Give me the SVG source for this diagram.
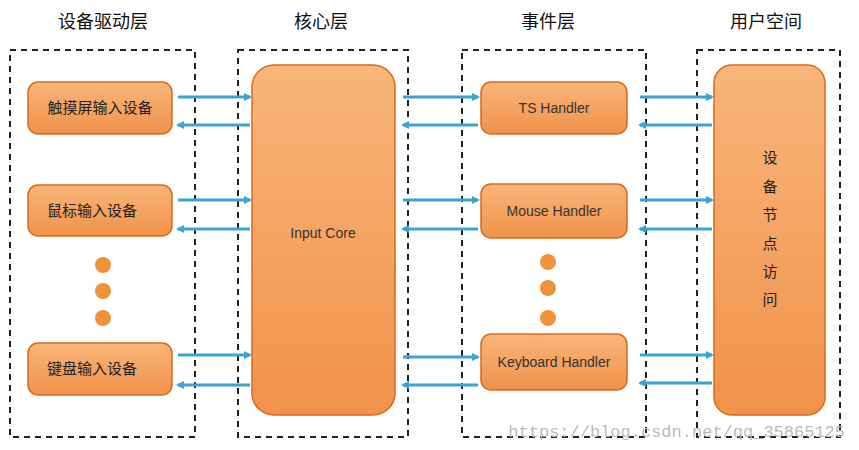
<svg xmlns="http://www.w3.org/2000/svg" width="859" height="450" viewBox="0 0 859 450">
<style>
.frame{fill:none;stroke:#222;stroke-width:2;stroke-dasharray:6 5}
.node{fill:url(#og);stroke:#d96a1a;stroke-width:1.5}
.h{font-family:"Noto Sans CJK SC","Liberation Sans",sans-serif;font-size:18px;fill:#111;text-anchor:middle}
.t{font-family:"Noto Sans CJK SC","Liberation Sans",sans-serif;font-size:15px;fill:#222;text-anchor:middle}
.e{font-family:"Liberation Sans",sans-serif;font-size:14px;fill:#333;text-anchor:middle}
.a{stroke:#3aa3d6;stroke-width:3;fill:none;marker-end:url(#ah)}
.dot{fill:#f0913c}
</style>
<defs>
<linearGradient id="og" x1="0" y1="0" x2="0" y2="1"><stop offset="0" stop-color="#f9b57a"/><stop offset="1" stop-color="#f0924a"/></linearGradient>
<marker id="ah" markerWidth="8" markerHeight="8" refX="6" refY="4" orient="auto" markerUnits="userSpaceOnUse"><path d="M0,0 L8,4 L0,8 Z" fill="#3aa3d6"/></marker>
</defs>
<rect x="0" y="0" width="859" height="450" fill="#fff"/>
<g id="frames">
<rect class="frame" x="10" y="50" width="185" height="387"/>
<rect class="frame" x="238" y="50" width="170" height="387"/>
<rect class="frame" x="462" y="50" width="184" height="387"/>
<rect class="frame" x="697" y="50" width="143" height="387"/>
</g>
<g id="headers">
<text class="h" x="103" y="28">设备驱动层</text>
<text class="h" x="321" y="28">核心层</text>
<text class="h" x="548" y="28">事件层</text>
<text class="h" x="766" y="28">用户空间</text>
</g>
<g id="touch"><rect class="node" x="28" y="82" width="144" height="52" rx="10"/><text class="t" x="100" y="113">触摸屏输入设备</text></g>
<g id="mouse"><rect class="node" x="28" y="185" width="144" height="51" rx="10"/><text class="t" x="92" y="216">鼠标输入设备</text></g>
<g id="kbd"><rect class="node" x="28" y="343" width="144" height="52" rx="10"/><text class="t" x="92" y="374">键盘输入设备</text></g>
<g id="dots1"><circle class="dot" cx="103" cy="265" r="8"/><circle class="dot" cx="103" cy="291" r="8"/><circle class="dot" cx="103" cy="318" r="8"/></g>
<g id="core"><rect class="node" x="252" y="65" width="143" height="350" rx="22"/><text class="e" x="323" y="238">Input Core</text></g>
<g id="ts"><rect class="node" x="481" y="82" width="146" height="52" rx="10"/><text class="e" x="554" y="113">TS Handler</text></g>
<g id="mh"><rect class="node" x="481" y="184" width="146" height="54" rx="10"/><text class="e" x="554" y="216">Mouse Handler</text></g>
<g id="kh"><rect class="node" x="481" y="334" width="146" height="56" rx="10"/><text class="e" x="554" y="367">Keyboard Handler</text></g>
<g id="dots2"><circle class="dot" cx="548" cy="262" r="8"/><circle class="dot" cx="548" cy="288" r="8"/><circle class="dot" cx="548" cy="318" r="8"/></g>
<g id="user"><rect class="node" x="714" y="65" width="111" height="350" rx="18"/>
<text class="t" x="770" y="163">设</text><text class="t" x="770" y="192">备</text><text class="t" x="770" y="220">节</text><text class="t" x="770" y="249">点</text><text class="t" x="770" y="277">访</text><text class="t" x="770" y="305">问</text></g>
<g id="connectors">
<line class="a" x1="178" y1="97" x2="250" y2="97"/><line class="a" x1="250" y1="125" x2="178" y2="125"/>
<line class="a" x1="178" y1="200" x2="250" y2="200"/><line class="a" x1="250" y1="229" x2="178" y2="229"/>
<line class="a" x1="178" y1="355" x2="250" y2="355"/><line class="a" x1="250" y1="385" x2="178" y2="385"/>
<line class="a" x1="403" y1="97" x2="478" y2="97"/><line class="a" x1="478" y1="125" x2="403" y2="125"/>
<line class="a" x1="403" y1="200" x2="478" y2="200"/><line class="a" x1="478" y1="229" x2="403" y2="229"/>
<line class="a" x1="403" y1="357" x2="478" y2="357"/><line class="a" x1="478" y1="385" x2="403" y2="385"/>
<line class="a" x1="640" y1="97" x2="712" y2="97"/><line class="a" x1="712" y1="125" x2="640" y2="125"/>
<line class="a" x1="640" y1="200" x2="712" y2="200"/><line class="a" x1="712" y1="229" x2="640" y2="229"/>
<line class="a" x1="640" y1="355" x2="712" y2="355"/><line class="a" x1="712" y1="383" x2="640" y2="383"/>
</g>
<text x="845" y="437" font-family="Liberation Mono,monospace" font-size="17" fill="#bbb" text-anchor="end">https://blog.csdn.net/qq_35865125</text>
</svg>
